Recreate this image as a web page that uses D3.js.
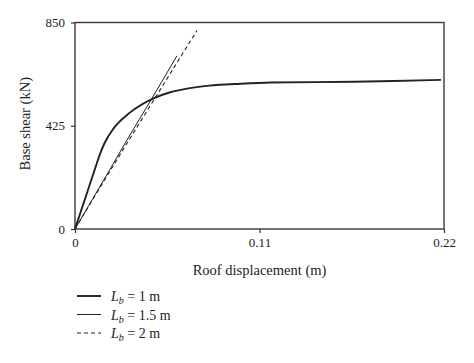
<!DOCTYPE html>
<html>
<head>
<meta charset="utf-8">
<script src="https://cdn.jsdelivr.net/npm/d3@7"></script>
<style>
  body { margin: 0; background: #fff; }
  text { font-family: "Liberation Serif", "DejaVu Serif", serif; fill: #222; }
</style>
</head>
<body>
<div id="chart"></div>
<script>
// pushover curves
const dispLb1 = [0, 0.0070, 0.0125, 0.0150, 0.0175, 0.0229, 0.0329, 0.0468, 0.0568, 0.0668, 0.0800, 0.0986, 0.1166, 0.1662, 0.1900, 0.2182];
const shearLb1 = [0, 145, 260, 310, 352, 413, 480, 538, 563, 578, 590, 598, 603, 606, 609, 614];
const dispLb15 = [0, 0.0209, 0.0309, 0.0459, 0.0608];
const shearLb15 = [0, 246, 365, 538, 713];
const dispLb2 = [0, 0.0150, 0.0300, 0.0727];
const shearLb2 = [0, 172, 342, 817];

const xTicks = [0, 0.11, 0.22];
const yTicks = [0, 425, 850];
const legendLabels = ['1 m', '1.5 m', '2 m'];

const width = 474, height = 363;
const margin = { top: 22.5, right: 30, bottom: 134, left: 75 };
const w = width - margin.left - margin.right;
const h = height - margin.top - margin.bottom;

const x = d3.scaleLinear().domain([0, 0.22]).range([0, w]);
const y = d3.scaleLinear().domain([0, 850]).range([h, 0]);

const svg = d3.select('#chart').append('svg')
  .attr('width', width)
  .attr('height', height)
  .append('g')
  .attr('transform', 'translate(' + margin.left + ',' + margin.top + ')');

// frame
svg.append('rect')
  .attr('width', w).attr('height', h)
  .attr('fill', 'none').attr('stroke', '#3a3a3a').attr('stroke-width', 1.4);

const xAxis = d3.axisBottom(x).tickValues(xTicks).tickSize(4).tickPadding(5)
  .tickFormat(d => d === 0 ? '0' : d3.format('.2f')(d));
const yAxis = d3.axisLeft(y).tickValues(yTicks).tickSize(4).tickPadding(6)
  .tickFormat(d3.format('d'));

svg.append('g')
  .attr('transform', 'translate(0,' + h + ')')
  .call(xAxis)
  .call(g => g.select('.domain').remove());

svg.append('g')
  .call(yAxis)
  .call(g => g.select('.domain').remove());

svg.selectAll('.tick line').attr('stroke', '#333').attr('stroke-width', 1.2);
svg.selectAll('.tick text')
  .style('font-family', '"Liberation Serif", serif')
  .style('font-size', '13px').attr('fill', '#222');

svg.append('text')
  .attr('x', w / 2).attr('y', h + 46)
  .attr('text-anchor', 'middle')
  .style('font-size', '14.5px')
  .text('Roof displacement (m)');

svg.append('text')
  .attr('transform', 'rotate(-90)')
  .attr('x', -h / 2 + 2).attr('y', -45)
  .attr('text-anchor', 'middle')
  .style('font-size', '14.5px')
  .text('Base shear (kN)');

const series = [
  { xs: dispLb1, ys: shearLb1, sw: 1.9, dash: null, curve: d3.curveMonotoneX },
  { xs: dispLb15, ys: shearLb15, sw: 1, dash: null, curve: d3.curveMonotoneX },
  { xs: dispLb2, ys: shearLb2, sw: 1.1, dash: '4,3', curve: d3.curveLinear }
];

series.forEach(s => {
  const pts = s.xs.map((d, i) => [d, s.ys[i]]);
  svg.append('path')
    .datum(pts)
    .attr('fill', 'none')
    .attr('stroke', '#222')
    .attr('stroke-width', s.sw)
    .attr('stroke-dasharray', s.dash)
    .attr('d', d3.line().curve(s.curve).x(d => x(d[0])).y(d => y(d[1])));
});

// legend
const legend = svg.append('g').attr('transform', 'translate(2,' + (h + 67) + ')');
legendLabels.forEach((lab, i) => {
  const s = series[i];
  const g = legend.append('g').attr('transform', 'translate(0,' + (i * 18.5) + ')');
  g.append('line')
    .attr('x1', 0).attr('x2', 24)
    .attr('stroke', '#222')
    .attr('stroke-width', s.sw)
    .attr('stroke-dasharray', s.dash);
  const t = g.append('text').attr('x', 34).attr('y', 5).style('font-size', '14px');
  t.append('tspan').style('font-style', 'italic').text('L');
  t.append('tspan').style('font-style', 'italic').style('font-size', '10px')
    .attr('dy', 3).text('b');
  t.append('tspan').attr('dy', -3).text(' = ' + lab);
});
</script>
</body>
</html>
